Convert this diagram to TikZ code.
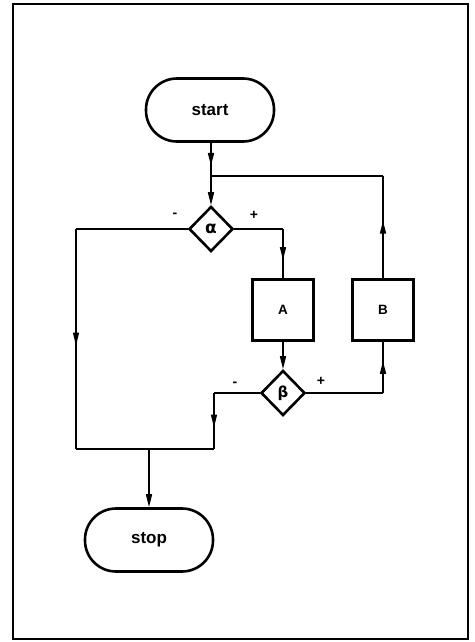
\documentclass[tikz,border=0pt]{standalone}
\usepackage{fontspec}
\setmainfont{Liberation Sans}
\newfontfamily\grk{DejaVu Sans}
\usetikzlibrary{shapes.geometric,arrows.meta,decorations.markings}
\tikzset{
  tipa/.tip={Triangle[length=13pt,width=6pt]},
  conn/.style={line width=1.6pt},
  box/.style={draw,line width=2.6pt,rectangle,minimum width=61pt,minimum height=61pt,inner sep=0pt,font=\bfseries\fontsize{13.5}{15}\selectfont},
  term/.style={draw,line width=2.6pt,rectangle,rounded corners=31pt,minimum width=128pt,minimum height=63pt,inner sep=0pt,font=\bfseries\fontsize{17}{19}\selectfont},
  decide/.style={draw,line width=2.6pt,diamond,inner sep=0pt,minimum width=44pt,minimum height=45pt},
  midarrow/.style={postaction={decorate},decoration={markings,mark=at position 0.5 with {\arrow[xshift=6.5pt]{tipa}}}},
  endarrow/.style={-{tipa}},
  sign/.style={font=\bfseries\fontsize{14}{16}\selectfont,inner sep=0pt}
}
\begin{document}
\begin{tikzpicture}[x=1pt,y=-1pt]
\useasboundingbox (0,0) rectangle (474,642);
\draw[line width=2pt] (13,4) rectangle (468,639);
\node[term] (start) at (210,110) {start};
\node[term] (stop) at (149,540) {stop};
\node[decide] (alpha) at (211,229) {\grk\bfseries\fontsize{17}{19}\selectfont α};
\node[decide] (beta) at (283,393) {\grk\bfseries\fontsize{15}{17}\selectfont β};
\node[box] (A) at (283,310) {A};
\node[box] (B) at (383,310) {B};
\coordinate (j1) at (211,176);
\coordinate (jB) at (B.north |- j1);
\coordinate (aR) at (alpha.east -| A.north);
\coordinate (cL) at (76,229);
\coordinate (cLB) at (76,449);
\coordinate (cR) at (214,449);
\coordinate (cBeta) at (214,393);
\coordinate (bR) at (beta.east -| B.south);
\coordinate (jS) at (stop.north |- cLB);
\coordinate (sS) at (start.south -| j1);
% connectors
\draw[conn,midarrow] (sS) -- (j1);
\draw[conn,endarrow] (j1) -- (alpha.north);
\draw[conn,midarrow] (B.north) -- (jB);
\draw[conn] (jB) -- (j1);
\draw[conn] (alpha.east) -- (aR);
\draw[conn,midarrow] (aR) -- (A.north);
\draw[conn] (alpha.west) -- (cL);
\draw[conn,midarrow] (cL) -- (cLB);
\draw[conn] (cLB) -- (cR);
\draw[conn,endarrow] (A.south) -- (beta.north);
\draw[conn] (beta.west) -- (cBeta);
\draw[conn,midarrow] (cBeta) -- (cR);
\draw[conn] (beta.east) -- (bR);
\draw[conn,midarrow] (bR) -- (B.south);
\draw[conn,endarrow] (jS) -- (stop.north);
% signs
\node[sign] (am) at (175,215) {-};
\node[sign] (ap) at (254,215) {+};
\node[sign] (bm) at (235,384) {-};
\node[sign] (bp) at (321,381) {+};
\end{tikzpicture}
\end{document}
